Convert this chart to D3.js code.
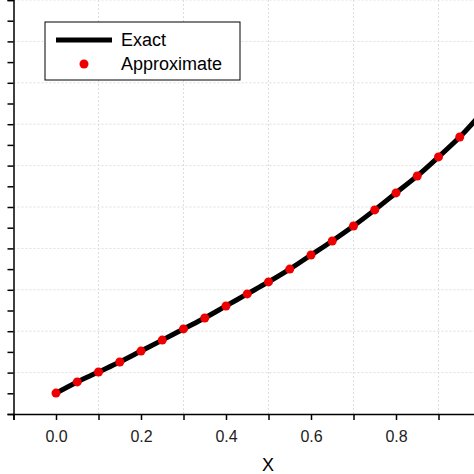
<!DOCTYPE html>
<html><head><meta charset="utf-8">
<script src="https://cdn.jsdelivr.net/npm/d3@7"></script>
<style>body{margin:0;background:#fff}</style></head>
<body><div id="chart"></div>
<script>
const xs = [0, 0.05, 0.1, 0.15, 0.2, 0.25, 0.3, 0.35, 0.4, 0.45, 0.5, 0.55, 0.6, 0.65, 0.7, 0.75, 0.8, 0.85, 0.9, 0.95, 1.0];
const approx = [1.01, 1.55, 2.03, 2.51, 3.04, 3.57, 4.11, 4.64, 5.22, 5.80, 6.38, 7.00, 7.68, 8.36, 9.08, 9.86, 10.68, 11.50, 12.42, 13.38, 14.5];
const xTicks = [0, 0.2, 0.4, 0.6, 0.8];

const W = 474, H = 474;
const svg = d3.select('#chart').append('svg').attr('width', W).attr('height', H);

const x = d3.scaleLinear().domain([-0.1, 1.0]).range([13.5, 481]);
const y = d3.scaleLinear().domain([0, 20]).range([414, 0]);

// grid
const g = svg.append('g').attr('stroke', '#ddd').attr('stroke-dasharray', '2,2');
g.selectAll('.vg').data([0.1, 0.3, 0.5, 0.7, 0.9]).enter().append('line')
    .attr('x1', d => x(d)).attr('x2', d => x(d)).attr('y1', 0).attr('y2', 414);
g.selectAll('.hg').data(d3.range(2, 21, 2)).enter().append('line')
    .attr('x1', 13.5).attr('x2', W).attr('y1', d => y(d)).attr('y2', d => y(d));

// axes
svg.append('g').attr('transform', 'translate(0,414)')
    .call(d3.axisBottom(x).tickValues(d3.range(-1, 11).map(d => d / 10)).tickSize(6)
        .tickFormat(d => xTicks.some(t => Math.abs(t - d) < 1e-9) ? d3.format('.1f')(d) : ''))
    .call(a => a.select('.domain').attr('stroke-width', 1.5))
    .call(a => a.selectAll('line').attr('stroke-width', 1.5))
    .call(a => a.selectAll('text').attr('font-family', 'Liberation Sans, Arial').attr('font-size', 16).attr('dy', '1.2em').attr('fill', '#222'));
svg.append('g').attr('transform', 'translate(13.5,0)')
    .call(d3.axisLeft(y).tickValues(d3.range(0, 21)).tickSize(6).tickFormat(''))
    .call(a => a.select('.domain').attr('stroke-width', 1.5))
    .call(a => a.selectAll('line').attr('stroke-width', 1.5));

svg.append('text').attr('x', 268).attr('y', 471).attr('text-anchor', 'middle')
    .attr('font-family', 'Liberation Sans, Arial').attr('font-size', 18).text('X');

// data
const line = d3.line().x((d, i) => x(xs[i])).y(d => y(d)).curve(d3.curveMonotoneX);
svg.append('path').datum(approx).attr('d', line).attr('fill', 'none')
    .attr('stroke', '#000').attr('stroke-width', 5);
svg.selectAll('.pt').data(approx.slice(0, 20)).enter().append('circle')
    .attr('cx', (d, i) => x(xs[i])).attr('cy', d => y(d)).attr('r', 4.5).attr('fill', '#ee0000');

// legend
const lg = svg.append('g');
lg.append('rect').attr('x', 45).attr('y', 22).attr('width', 195).attr('height', 58)
    .attr('fill', '#fff').attr('stroke', '#000').attr('stroke-width', 1);
lg.append('line').attr('x1', 56).attr('x2', 112).attr('y1', 40).attr('y2', 40)
    .attr('stroke', '#000').attr('stroke-width', 5);
lg.append('circle').attr('cx', 84).attr('cy', 64).attr('r', 4.5).attr('fill', '#ee0000');
lg.selectAll('.lt').data(['Exact', 'Approximate']).enter().append('text')
    .attr('x', 121).attr('y', (d, i) => 46 + i * 24)
    .attr('font-family', 'Liberation Sans, Arial').attr('font-size', 18).text(d => d);
</script></body></html>
